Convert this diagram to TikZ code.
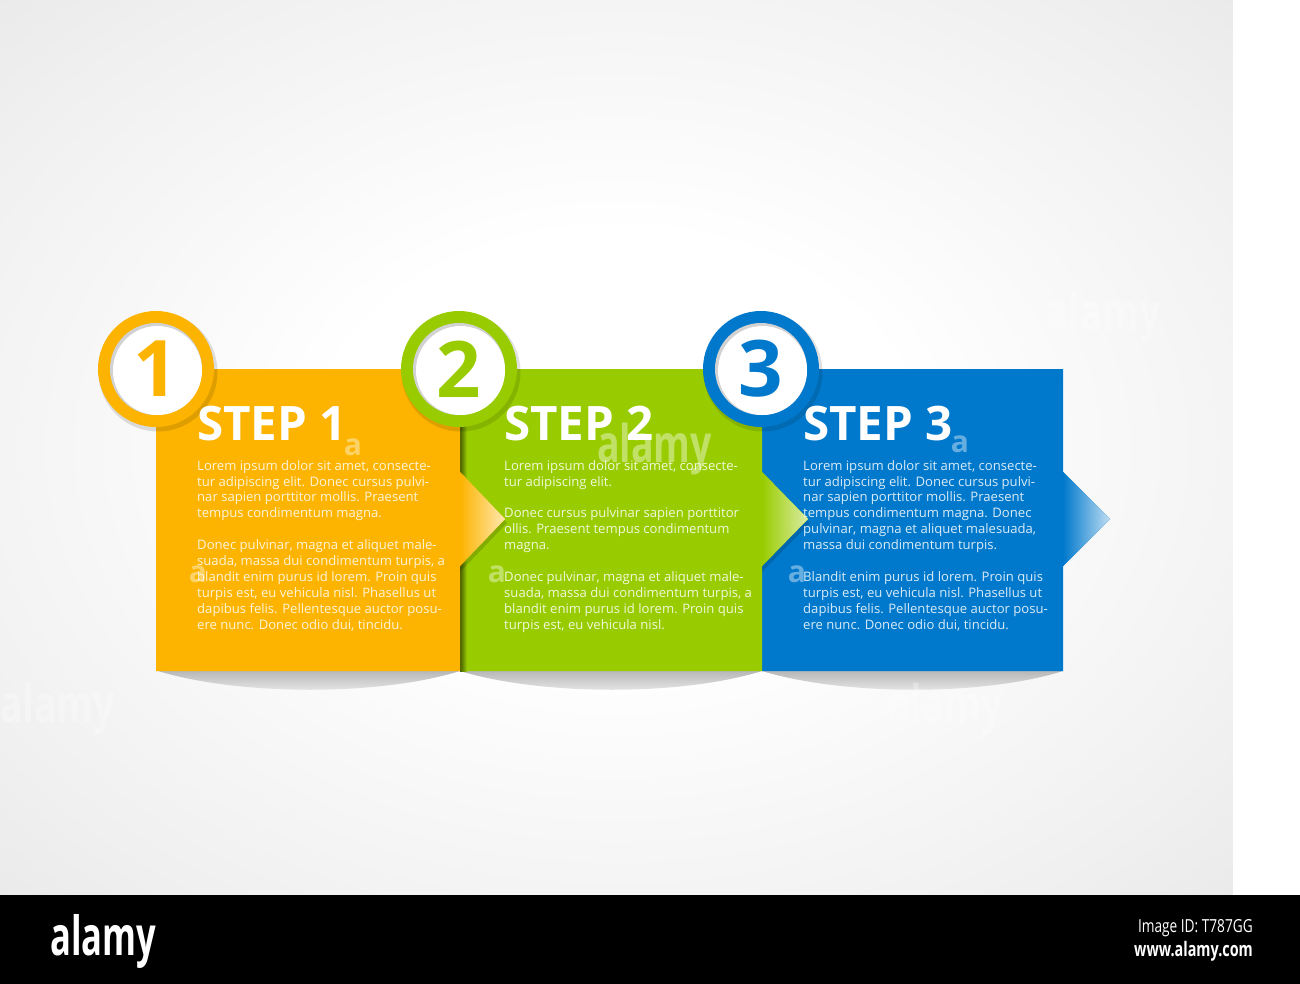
\documentclass[tikz,border=0pt]{standalone}
\usepackage{fontspec}
\setmainfont{Open Sans}
\definecolor{stepone}{HTML}{FDB400}
\definecolor{steptwo}{HTML}{99CC00}
\definecolor{stepthree}{HTML}{0079CC}
\definecolor{bginner}{gray}{0.94}
\definecolor{bgmid}{gray}{0.86}
\definecolor{bgedge}{gray}{0.77}
\pgfdeclareradialshading{backdrop}{\pgfpoint{0bp}{0bp}}{color(0bp)=(white); color(12bp)=(white); color(30bp)=(bginner); color(50bp)=(bgmid); color(72bp)=(bgedge)}
\tikzset{
  heading/.style={anchor=base west, text=white, inner sep=0pt, font=\fontsize{47.5}{47.5}\selectfont\bfseries},
  bodytext/.style={anchor=north west, align=left, text=white, text opacity=0.85, inner sep=0pt, font=\fontsize{13.1}{15.9}\selectfont},
  numeral/.style={inner sep=0pt, font=\fontsize{78}{78}\selectfont\bfseries},
  watermark/.style={text=white, text opacity=0.4, inner sep=0pt, font=\fontsize{52}{52}\selectfont\bfseries},
  smallmark/.style={text=white, text opacity=0.4, inner sep=0pt, font=\fontsize{30}{30}\selectfont\bfseries}
}
\begin{document}
\begin{tikzpicture}[x=1pt,y=-1pt]
		\useasboundingbox (0,0) rectangle (1300,984);
		% backdrop
		\shade[shading=backdrop] (0,0) rectangle (1233,895);
		\fill[white] (1233,0) rectangle (1300,895);
		\fill[black] (0,895) rectangle (1300,984);
		% shadows under the panels
		\shade[top color=black!28, bottom color=white!95!black] (158,671) .. controls (240,696) and (380,696) .. (460,671) -- cycle;
		\shade[top color=black!28, bottom color=white!95!black] (460,671) .. controls (542,696) and (682,696) .. (762,671) -- cycle;
		\shade[top color=black!28, bottom color=white!95!black] (762,671) .. controls (844,696) and (984,696) .. (1063,671) -- cycle;
		% step 3
		\fill[stepthree] (762,369)--(1063,369)--(1063,472)--(1110,519)--(1063,566)--(1063,671)--(762,671)--cycle;
		\shade[left color=stepthree, right color=stepthree!25!white] (1063,472)--(1110,519)--(1063,566)--cycle;
		% step 2
		\fill[black,opacity=0.15] (762,476)--(810,523)--(762,572)--cycle;
		\fill[steptwo] (460,369)--(762,369)--(762,472)--(808,519)--(762,566)--(762,671)--(460,671)--cycle;
		\shade[left color=steptwo, right color=steptwo!35!white] (762,472)--(808,519)--(762,566)--cycle;
		\shade[left color=black!55!steptwo, right color=steptwo] (460,369) rectangle (467,671);
		% step 1
		\fill[black,opacity=0.15] (460,476)--(507,523)--(460,572)--cycle;
		\fill[stepone] (156,369)--(460,369)--(460,472)--(505,519)--(460,566)--(460,671)--(156,671)--cycle;
		\shade[left color=stepone, right color=stepone!30!white] (460,472)--(505,519)--(460,566)--cycle;
		% number circles
		\fill[black,opacity=0.12] (158,372) circle (59.5);
		\fill[stepone] (156,369) circle (58);
		\fill[gray!35] (156,369) circle (46);
		\fill[white] (157.5,370.5) circle (44.5);
		\fill[black,opacity=0.12] (461,372) circle (59.5);
		\fill[steptwo] (459,369) circle (58);
		\fill[gray!35] (459,369) circle (46);
		\fill[white] (460.5,370.5) circle (44.5);
		\fill[black,opacity=0.12] (763,372) circle (59.5);
		\fill[stepthree] (761,369) circle (58);
		\fill[gray!35] (761,369) circle (46);
		\fill[white] (762.5,370.5) circle (44.5);
		\node[numeral, text=stepone] (num1) at (156,369) {1};
		\node[numeral, text=steptwo] (num2) at (459,369) {2};
		\node[numeral, text=stepthree] (num3) at (761,369) {3};
		% headings
		\node[heading] (head1) at (197,440) {STEP 1};
		\node[heading] (head2) at (504,440) {STEP 2};
		\node[heading] (head3) at (803,440) {STEP 3};
		% body texts
		\node[bodytext] (body1) at (197,460) {Lorem ipsum dolor sit amet, consecte-\\tur adipiscing elit. Donec cursus pulvi-\\nar sapien porttitor mollis. Praesent\\tempus condimentum magna.\\[15.9pt]Donec pulvinar, magna et aliquet male-\\suada, massa dui condimentum turpis, a\\blandit enim purus id lorem. Proin quis\\turpis est, eu vehicula nisl. Phasellus ut\\dapibus felis. Pellentesque auctor posu-\\ere nunc. Donec odio dui, tincidu.};
		\node[bodytext] (body2) at (504,460) {Lorem ipsum dolor sit amet, consecte-\\tur adipiscing elit.\\[15.9pt]Donec cursus pulvinar sapien porttitor\\ollis. Praesent tempus condimentum\\magna.\\[15.9pt]Donec pulvinar, magna et aliquet male-\\suada, massa dui condimentum turpis, a\\blandit enim purus id lorem. Proin quis\\turpis est, eu vehicula nisl.};
		\node[bodytext] (body3) at (803,460) {Lorem ipsum dolor sit amet, consecte-\\tur adipiscing elit. Donec cursus pulvi-\\nar sapien porttitor mollis. Praesent\\tempus condimentum magna. Donec\\pulvinar, magna et aliquet malesuada,\\massa dui condimentum turpis.\\[15.9pt]Blandit enim purus id lorem. Proin quis\\turpis est, eu vehicula nisl. Phasellus ut\\dapibus felis. Pellentesque auctor posu-\\ere nunc. Donec odio dui, tincidu.};
		% watermarks
		\node[watermark, anchor=base west] (wm1) at (597,462) {\scalebox{0.72}[1]{alamy}};
		\node[watermark, anchor=base west, text opacity=0.3] (wm2) at (0,722) {\scalebox{0.72}[1]{alamy}};
		\node[watermark, anchor=base west, text opacity=0.3] (wm3) at (888,722) {\scalebox{0.72}[1]{alamy}};
		\node[watermark, anchor=base west, text opacity=0.3] (wm4) at (1046,330) {\scalebox{0.72}[1]{alamy}};
		\node[smallmark] (sm1) at (353,447) {a};
		\node[smallmark] (sm2) at (198,574) {a};
		\node[smallmark] (sm3) at (497,574) {a};
		\node[smallmark] (sm4) at (960,444) {a};
		\node[smallmark] (sm5) at (797,574) {a};
		% footer
		\node[anchor=base west, text=white, inner sep=0pt, font=\fontsize{54}{54}\selectfont\bfseries] (logo) at (50,955) {\scalebox{0.64}[1]{alamy}};
		\node[anchor=base east, text=white, inner sep=0pt, font=\fontsize{18}{18}\selectfont] (imgid) at (1253,932) {\scalebox{0.76}[1]{Image ID: T787GG}};
		\node[anchor=base east, text=white, inner sep=0pt, font=\fontsize{20}{20}\selectfont\bfseries] (site) at (1253,956) {\scalebox{0.72}[1]{www.alamy.com}};
		\end{tikzpicture}
\end{document}
